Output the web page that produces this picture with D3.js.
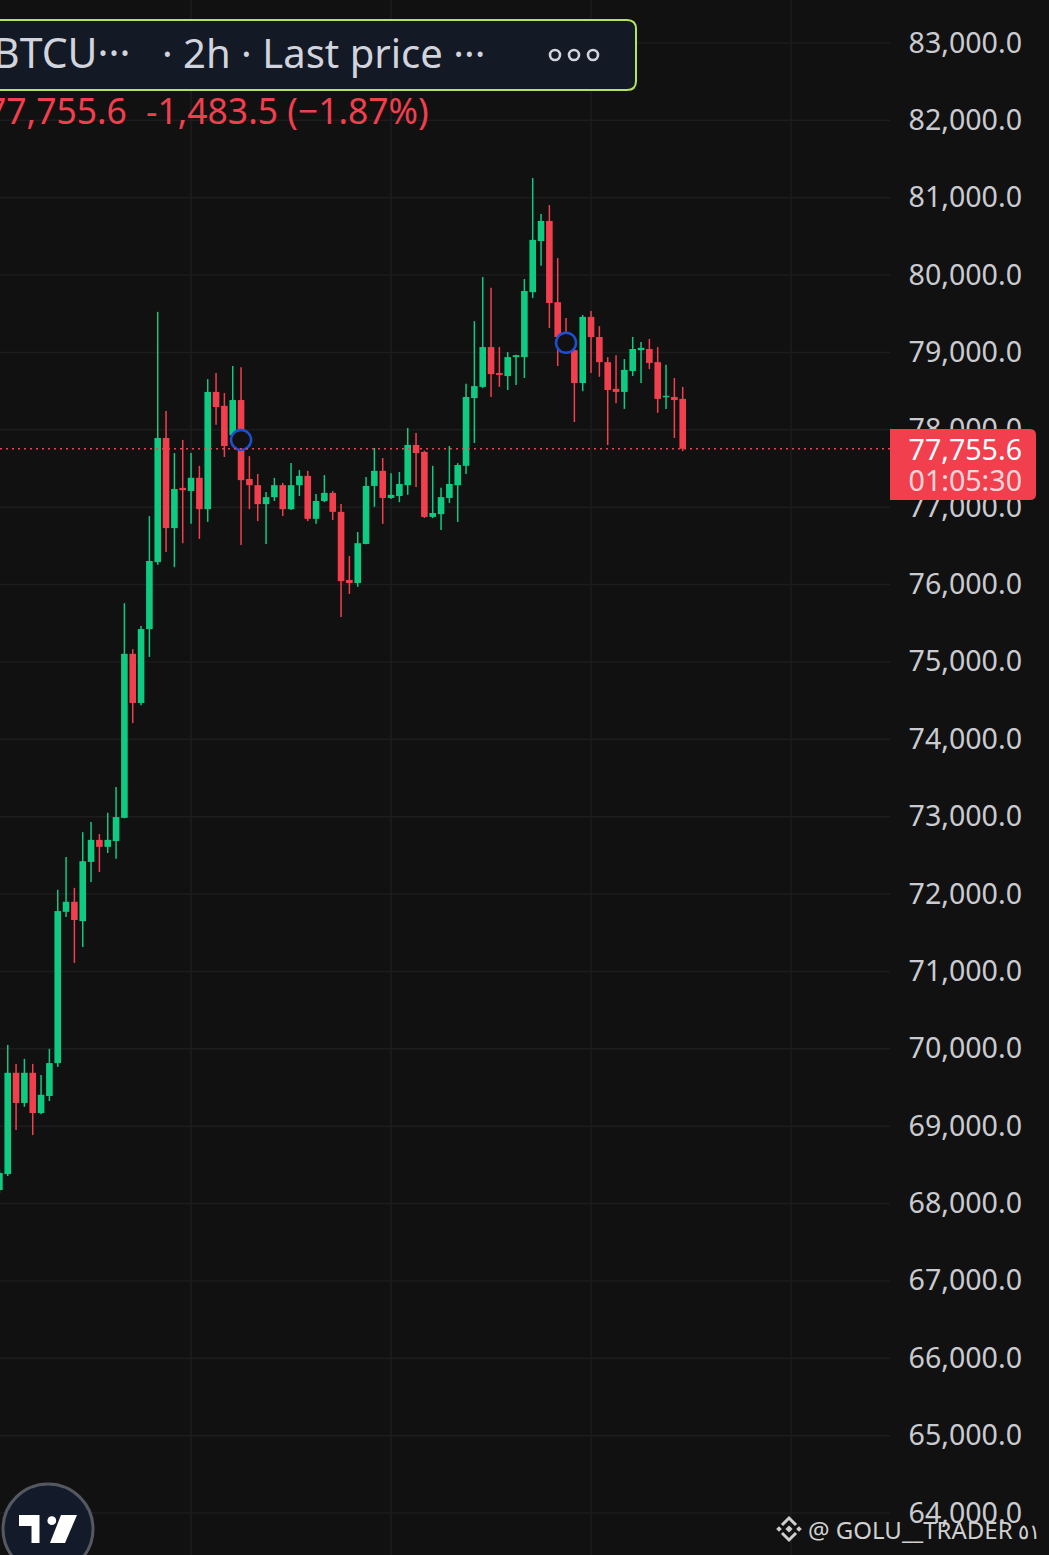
<!DOCTYPE html>
<html><head><meta charset="utf-8">
<script src="https://cdn.jsdelivr.net/npm/d3@7"></script>
<style>html,body{margin:0;padding:0;background:#111111;overflow:hidden}</style>
</head><body>
<script>
// ---- DATA (2h candles, BTCUSDT) ----
const opens  = [68175,68380,69690,69300,69690,69170,69390,69815,71770,71900,71650,72415,72700,72610,72685,72985,75105,74470,75425,76290,
                77895,76730,77250,77210,77380,76975,78490,78310,77930,78385,77365,77285,77040,77130,77285,76975,77285,77405,76850,77080,
                77185,76940,76060,76020,76525,77275,77470,77120,77145,77285,77805,77715,76875,76910,77120,77285,77535,78410,78555,79070,
                78735,78695,78940,78940,79780,80440,80700,79650,79200,79030,78605,79460,79200,78875,78530,78490,78760,79030,79045,78875,
                78425,78425,78400];
const highs  = [68435,70050,69805,69870,69805,69660,70000,72055,72480,72080,72800,72930,72775,73050,73385,75760,75165,75465,76885,79525,
                78245,77700,77870,77700,77535,78655,78735,78475,78825,78810,77660,77430,77195,77380,77315,77570,77480,77470,77170,77415,
                77210,77040,76370,76680,77390,77765,77635,77440,77455,78025,77960,77730,77535,77250,77790,77570,78595,79405,79975,79835,
                79070,79005,78970,79950,81255,80790,80905,80220,79445,79060,79485,79535,79340,78940,78965,78915,79200,79135,79175,79070,
                78840,78670,78555];
const lows   = [68135,68355,68950,69250,68885,69155,69325,69765,71705,71110,71315,72155,72285,72530,72455,72980,74210,74440,75065,76255,
                76420,76225,76535,76785,76590,76810,78065,77650,77870,76510,76975,76820,76525,77080,76885,76965,77145,76820,76785,77065,
                76835,75580,75880,75970,76520,77005,76785,77105,77065,77160,77260,76860,76860,76705,77055,76810,77430,77830,78540,78425,
                78555,78515,78580,78670,79705,80120,79315,78825,79005,78100,78500,78735,78685,77805,78345,78270,78695,78605,78785,78220,
                78270,77895,77725];
const closes = [68395,69690,69300,69690,69170,69405,69815,71780,71900,71665,72425,72700,72610,72700,72995,75105,74470,75425,76305,77895,
                76730,77235,77220,77380,76975,78490,78295,77790,78385,77350,77285,77040,77130,77285,76975,77285,77405,76850,77080,77185,
                76940,76045,76020,76535,77275,77470,77120,77160,77300,77805,77700,76875,76925,77130,77300,77545,78425,78565,79070,78720,
                78710,78940,78965,79795,80455,80700,79640,79200,79060,78605,79460,79200,78875,78515,78490,78775,79045,79060,78865,78400,
                78440,78385,77755.6];
const yTicks = [64000,65000,66000,67000,68000,69000,70000,71000,72000,73000,74000,75000,76000,77000,78000,79000,80000,81000,82000,83000];
const timeGridIdx = [23,47,71,95];
const markers = [{i:29,p:77870},{i:68,p:79125}];
const lastPrice = 77755.6;
const countdown = "01:05:30";
const symbolText = "BTCU\u00B7\u00B7\u00B7";
const intervalText = "\u00B7 2h \u00B7 Last price \u00B7\u00B7\u00B7";
const changeAbs = "-1,483.5";
const changePct = "(\u22121.87%)";
const watermark = "@ GOLU__TRADER";
const watermarkTail = "\u0665\u0661";

// ---- STYLE ----
const W = 1049, H = 1555;
const UP = "#0ecb81", DOWN = "#f23f4e", BG = "#111111", GRID = "#1d1d1d";
const FONT = "'Noto Sans', 'Open Sans', sans-serif";

const svg = d3.select("body").append("svg").attr("width", W).attr("height", H)
  .style("display","block").style("font-family", FONT);
svg.append("rect").attr("width", W).attr("height", H).attr("fill", BG);

const n = opens.length;
const x = d3.scaleLinear().domain([0, n - 1]).range([-0.6, 682.7]);
const y = d3.scaleLinear().domain([64000, 83000]).range([1513, 43]);
const plotRight = 890;

// grid
const grid = svg.append("g");
grid.selectAll(".hg").data(yTicks).join("line")
  .attr("x1", 0).attr("x2", plotRight).attr("y1", d => y(d)).attr("y2", d => y(d))
  .attr("stroke", GRID).attr("stroke-width", 1.5);
grid.selectAll(".vg").data(timeGridIdx).join("line")
  .attr("x1", d => x(d)).attr("x2", d => x(d)).attr("y1", 0).attr("y2", H)
  .attr("stroke", GRID).attr("stroke-width", 1.5);

// candles
const data = d3.range(n).map(i => ({i, o: opens[i], h: highs[i], l: lows[i], c: closes[i]}));
const bw = 6.6;
const cg = svg.append("g");
cg.selectAll(".wick").data(data).join("line")
  .attr("x1", d => x(d.i)).attr("x2", d => x(d.i))
  .attr("y1", d => y(d.h)).attr("y2", d => y(d.l))
  .attr("stroke", d => d.c >= d.o ? UP : DOWN).attr("stroke-width", 1.5);
cg.selectAll(".body").data(data).join("rect")
  .attr("x", d => x(d.i) - bw / 2).attr("width", bw)
  .attr("y", d => y(Math.max(d.o, d.c)))
  .attr("height", d => Math.max(1.5, Math.abs(y(d.o) - y(d.c))))
  .attr("fill", d => d.c >= d.o ? UP : DOWN);

// markers
svg.selectAll(".mk").data(markers).join("circle")
  .attr("cx", d => x(d.i)).attr("cy", d => y(d.p)).attr("r", 10)
  .attr("fill", BG).attr("stroke", "#1f4fcf").attr("stroke-width", 2.5);

// last price line
svg.append("line").attr("x1", 0).attr("x2", plotRight)
  .attr("y1", y(lastPrice)).attr("y2", y(lastPrice))
  .attr("stroke", DOWN).attr("stroke-width", 1.5).attr("stroke-dasharray", "2,4");

// y-axis labels
const fmt = d3.format(",.1f");
svg.selectAll(".yl").data(yTicks).join("text")
  .attr("x", 1022).attr("y", d => y(d) - 2)
  .attr("text-anchor", "end").attr("dominant-baseline", "central")
  .attr("font-size", 28.6).attr("fill", "#c9cbd0").text(d => fmt(d));

// last price box
const by0 = 429, by1 = 500, bx0 = 890, bx1 = 1036, r = 6;
svg.append("path")
  .attr("d", `M${bx0},${by0}H${bx1 - r}Q${bx1},${by0} ${bx1},${by0 + r}V${by1 - r}Q${bx1},${by1} ${bx1 - r},${by1}H${bx0}Z`)
  .attr("fill", DOWN);
svg.append("text").attr("x", 1022).attr("y", 448).attr("text-anchor", "end")
  .attr("dominant-baseline", "central").attr("font-size", 28.6).attr("fill", "#ffffff")
  .text(fmt(lastPrice));
svg.append("text").attr("x", 1022).attr("y", 479).attr("text-anchor", "end")
  .attr("dominant-baseline", "central").attr("font-size", 28.6).attr("fill", "rgba(255,255,255,0.8)")
  .text(countdown);

// header box
svg.append("path")
  .attr("d", "M-10,20H627Q636,20 636,29V81Q636,90 627,90H-10Z")
  .attr("fill", "#141926").attr("stroke", "#b6e35c").attr("stroke-width", 2);
svg.append("text").attr("x", -7).attr("y", 68).attr("font-size", 41).attr("fill", "#d1d4dc").text(symbolText);
svg.append("text").attr("x", 162).attr("y", 68).attr("font-size", 40).attr("fill", "#d1d4dc").text(intervalText);
svg.selectAll(".dots").data([0,1,2]).join("circle")
  .attr("cx", d => 555 + d * 19).attr("cy", 55).attr("r", 5)
  .attr("fill", "none").attr("stroke", "#d1d4dc").attr("stroke-width", 2.6);

// price change line
svg.append("text").attr("x", -14).attr("y", 124).attr("font-size", 35.5).attr("fill", DOWN)
  .text(fmt(lastPrice));
svg.append("text").attr("x", 146).attr("y", 124).attr("font-size", 35.5).attr("fill", DOWN)
  .text(changeAbs + " " + changePct);

// TradingView logo
const lg = svg.append("g");
lg.append("circle").attr("cx", 48).attr("cy", 1529).attr("r", 45)
  .attr("fill", "#131a2a").attr("stroke", "#55585e").attr("stroke-width", 3);
lg.append("polygon").attr("points", "19,1515 39.5,1515 39.5,1543 31.5,1543 31.5,1526 19,1526").attr("fill", "#fff");
lg.append("circle").attr("cx", 51.8).attr("cy", 1520.7).attr("r", 4.4).attr("fill", "#fff");
lg.append("polygon").attr("points", "61,1515 77,1515 65,1543 50,1543").attr("fill", "#fff");

// watermark
const wm = svg.append("g").attr("transform", "translate(789,1529)").attr("fill", "#cfcfcf").attr("stroke", "none");
const dia = (cx, cy, s) => `M${cx},${cy - s}L${cx + s},${cy}L${cx},${cy + s}L${cx - s},${cy}Z`;
wm.append("path").attr("d", dia(0, 0, 3.6));
wm.append("path").attr("d", dia(-10, 0, 2.8));
wm.append("path").attr("d", dia(10, 0, 2.8));
wm.append("path").attr("d", "M-7,-4L0,-11L7,-4").attr("fill", "none").attr("stroke", "#cfcfcf").attr("stroke-width", 3);
wm.append("path").attr("d", "M-7,4L0,11L7,4").attr("fill", "none").attr("stroke", "#cfcfcf").attr("stroke-width", 3);
const wt = svg.append("text").attr("x", 808).attr("y", 1539).attr("font-size", 24).attr("fill", "#d0d0d0");
wt.append("tspan").text(watermark);
wt.append("tspan").attr("dx", 5).attr("font-size", 21).text(watermarkTail);
</script>
</body></html>
